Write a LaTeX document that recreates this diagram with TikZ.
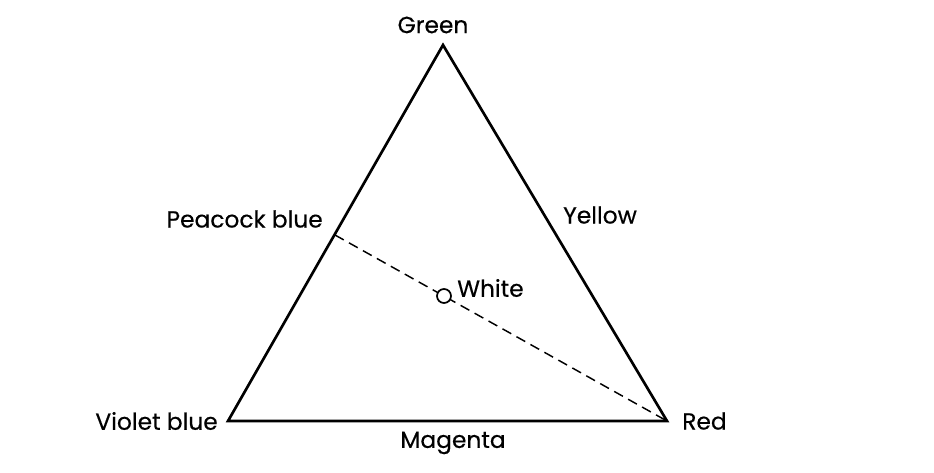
\documentclass[tikz,border=0pt]{standalone}
\usepackage{fontspec}
\setmainfont{Poppins}[FakeBold=0.4]
\usetikzlibrary{positioning}
\tikzset{side/.style = {line width=2pt, line join=miter},
         mixline/.style = {line width=1.1pt, dash pattern=on 7.5pt off 4.5pt},
         colname/.style = {font=\fontsize{17.5}{20}\selectfont, inner sep=0pt}}

\begin{document}
\begin{tikzpicture}[x=0.75pt, y=-0.75pt]
    \useasboundingbox (0, 0) rectangle (934, 473);

    \coordinate (green) at (443, 45);
    \coordinate (violet) at (228, 421);
    \coordinate (red) at (667, 421);
    \coordinate (peacock) at (335, 235);
    \coordinate (white) at (444, 296);

    \draw [side] (violet) -- (green) -- (red) -- cycle;
    \draw [mixline] (peacock) -- (red);
    \draw [line width=1.3pt, fill=white] (white) circle [radius=7];

    \node [colname] (greenlbl) at (433, 25) {Green};
    \node [colname] (yellowlbl) at (600, 215) {Yellow};
    \node [colname, anchor=east] (peacocklbl) at (323, 219) {Peacock blue};
    \node [colname, anchor=west] (whitelbl) at (457, 288) {White};
    \node [colname, anchor=east] (violetlbl) at (218, 421) {Violet blue};
    \node [colname, anchor=west] (redlbl) at (682, 421) {Red};
    \node [colname] (magentalbl) at (453, 443) {Magenta};
  \end{tikzpicture}
\end{document}
